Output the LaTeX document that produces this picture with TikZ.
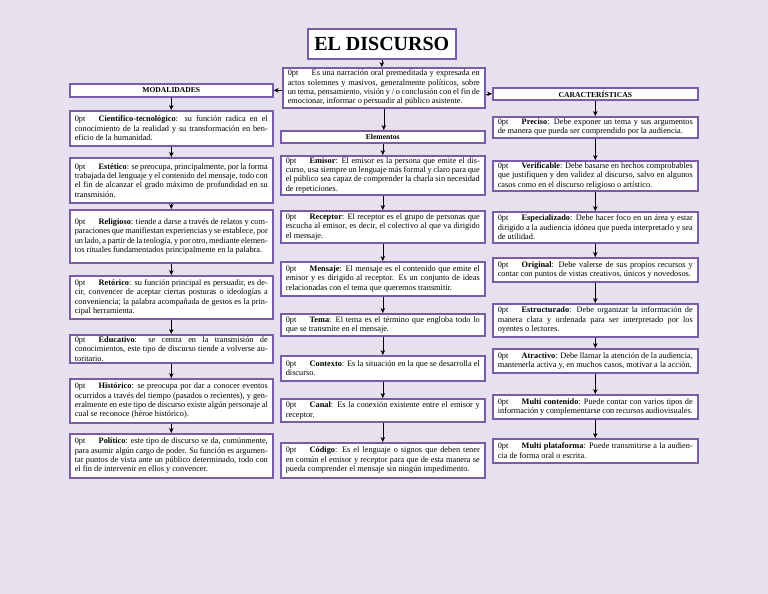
\documentclass[tikz,border=0pt]{standalone}
\usepackage{fontspec}
\setmainfont{Liberation Serif}
\usetikzlibrary{arrows.meta}
\definecolor{bg}{HTML}{E7E1EF}
\definecolor{pur}{HTML}{7A5CA8}
\tikzset{
 bx/.style={draw=pur,line width=1.6pt,fill=white,inner sep=0pt,anchor=north west},
 arr/.style={-{Stealth[length=5pt,width=4.5pt]},line width=0.6pt,black}
}
\newcommand{\bx}[6]{%
 \node[bx,minimum width=#4-#2,minimum height=#5-#3,text width=#4-#2-10,align=justify,font=\fontsize{8.3}{9.4}\selectfont\hyphenpenalty=10000\exhyphenpenalty=10000] (#1) at (#2,-#3) {\hspace*{1.6em}#6};}
\newcommand{\hb}[6]{%
 \node[bx,minimum width=#4-#2,minimum height=#5-#3,text width=#4-#2-10,align=center,font=\fontsize{7.6}{8}\selectfont\bfseries] (#1) at (#2,-#3) {#6};}
\begin{document}
\begin{tikzpicture}[x=1pt,y=1pt]
\fill[bg] (0,0) rectangle (768,-594);
\useasboundingbox (0,0) rectangle (768,-594);
\node[bx,minimum width=148,minimum height=30,font=\fontsize{20}{22}\selectfont\bfseries] (title) at (307,-28) {EL DISCURSO};
\bx{intro}{282}{67}{484}{107}{Es una narración oral premeditada y expresada en actos solemnes y masivos, generalmente políticos, sobre un tema, pensamiento, visión y / o conclusión con el fin de emocionar, informar o persuadir al público asistente.}
\hb{mod}{69}{83}{272}{96}{MODALIDADES}
\hb{car}{492}{87}{697}{99}{CARACTERÍSTICAS}
% left
\bx{l1}{69}{110}{272}{145}{\textbf{Científico-tecnológico}: su función radica en el conocimiento de la realidad y su transformación en beneficio de la humanidad.}
\bx{l2}{69}{157}{272}{202}{\textbf{Estético}: se preocupa, principalmente, por la forma trabajada del lenguaje y el contenido del mensaje, todo con el fin de alcanzar el grado máximo de profundidad en su transmisión.}
\bx{l3}{69}{209}{272}{262}{\textbf{Religioso}: tiende a darse a través de relatos y comparaciones que manifiestan experiencias y se establece, por un lado, a partir de la teología, y por otro, mediante elementos rituales fundamentados principalmente en la palabra.}
\bx{l4}{69}{275}{272}{318}{\textbf{Retórico}: su función principal es persuadir, es decir, convencer de aceptar ciertas posturas o ideologías a conveniencia; la palabra acompañada de gestos es la principal herramienta.}
\bx{l5}{69}{334}{272}{362}{\textbf{Educativo}: se centra en la transmisión de conocimientos, este tipo de discurso tiende a volverse autoritario.}
\bx{l6}{69}{378}{272}{422}{\textbf{Histórico}: se preocupa por dar a conocer eventos ocurridos a través del tiempo (pasados o recientes), y generalmente en este tipo de discurso existe algún personaje al cual se reconoce (héroe histórico).}
\bx{l7}{69}{433}{272}{477}{\textbf{Político}: este tipo de discurso se da, comúnmente, para asumir algún cargo de poder. Su función es argumentar puntos de vista ante un público determinado, todo con el fin de intervenir en ellos y convencer.}
% middle
\hb{m0}{280}{130}{484}{142}{Elementos}
\bx{m1}{280}{155}{484}{194}{\textbf{Emisor}: El emisor es la persona que emite el discurso, usa siempre un lenguaje más formal y claro para que el público sea capaz de comprender la charla sin necesidad de repeticiones.}
\bx{m2}{280}{210}{484}{242}{\textbf{Receptor}: El receptor es el grupo de personas que escucha al emisor, es decir, el colectivo al que va dirigido el mensaje.}
\bx{m3}{280}{261}{484}{295}{\textbf{Mensaje}: El mensaje es el contenido que emite el emisor y es dirigido al receptor. Es un conjunto de ideas relacionadas con el tema que queremos transmitir.}
\bx{m4}{280}{313}{484}{335}{\textbf{Tema}: El tema es el término que engloba todo lo que se transmite en el mensaje.}
\bx{m5}{280}{355}{484}{380}{\textbf{Contexto}: Es la situación en la que se desarrolla el discurso.}
\bx{m6}{280}{398}{484}{421}{\textbf{Canal}: Es la conexión existente entre el emisor y receptor.}
\bx{m7}{280}{442}{484}{477}{\textbf{Código}: Es el lenguaje o signos que deben tener en común el emisor y receptor para que de esta manera se pueda comprender el mensaje sin ningún impedimento.}
% right
\bx{r1}{492}{116}{697}{137}{\textbf{Preciso}: Debe exponer un tema y sus argumentos de manera que pueda ser comprendido por la audiencia.}
\bx{r2}{492}{160}{697}{190}{\textbf{Verificable}: Debe basarse en hechos comprobables que justifiquen y den validez al discurso, salvo en algunos casos como en el discurso religioso o artístico.}
\bx{r3}{492}{211}{697}{242}{\textbf{Especializado}: Debe hacer foco en un área y estar dirigido a la audiencia idónea que pueda interpretarlo y sea de utilidad.}
\bx{r4}{492}{257}{697}{281}{\textbf{Original}: Debe valerse de sus propios recursos y contar con puntos de vistas creativos, únicos y novedosos.}
\bx{r5}{492}{303}{697}{336}{\textbf{Estructurado}: Debe organizar la información de manera clara y ordenada para ser interpretado por los oyentes o lectores.}
\bx{r6}{492}{348}{697}{372}{\textbf{Atractivo}: Debe llamar la atención de la audiencia, mantenerla activa y, en muchos casos, motivar a la acción.}
\bx{r7}{492}{394}{697}{418}{\textbf{Multi contenido}: Puede contar con varios tipos de información y complementarse con recursos audiovisuales.}
\bx{r8}{492}{438}{697}{462}{\textbf{Multi plataforma}: Puede transmitirse a la audiencia de forma oral o escrita.}
% arrows
\draw[arr] (title.south) -- (title.south |- intro.north);
\draw[arr] (intro.west |- mod.east) -- (mod.east);
\draw[arr] (intro.east |- car.west) -- (car.west);
\draw[arr] (intro.south) -- (intro.south |- m0.north);
\foreach \a/\b in {mod/l1,l1/l2,l2/l3,l3/l4,l4/l5,l5/l6,l6/l7,m0/m1,m1/m2,m2/m3,m3/m4,m4/m5,m5/m6,m6/m7,car/r1,r1/r2,r2/r3,r3/r4,r4/r5,r5/r6,r6/r7,r7/r8}
 \draw[arr] (\a.south) -- (\b.north);
\end{tikzpicture}
\end{document}
